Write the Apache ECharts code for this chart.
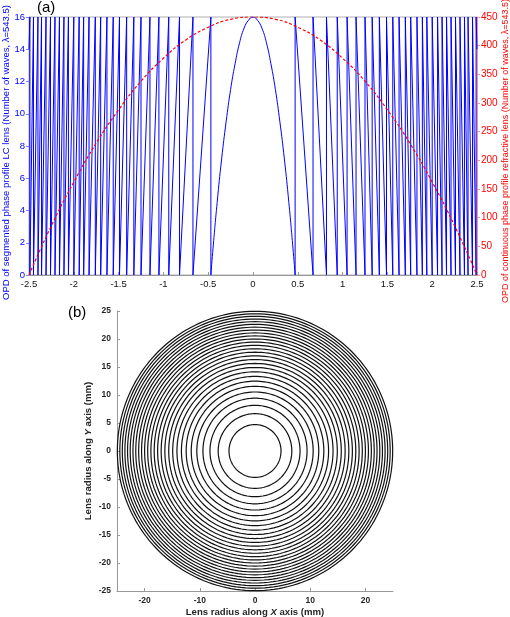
<!DOCTYPE html>
<html>
<head>
<meta charset="utf-8">
<script src="https://cdn.jsdelivr.net/npm/echarts@6/dist/echarts.min.js"></script>
<style>
html,body{margin:0;padding:0;background:#fff;}
#chart{width:510px;height:617px;}
</style>
</head>
<body>
<div id="chart"></div>
<script>
// ---- Panel (a) data ----
// x positions (positive side) where the segmented profile resets
const zoneEdges = [0.47, 0.67, 0.82, 0.94, 1.05, 1.15, 1.25, 1.33, 1.41, 1.49, 1.56, 1.63, 1.70, 1.76, 1.83, 1.89, 1.94, 2.00, 2.06, 2.11, 2.16, 2.21, 2.26, 2.31, 2.36, 2.40, 2.45, 2.49];
const edgeEndValue = 14;       // blue value at |x| = 2.5
const toothTop = 16;           // blue value right after each reset
// central zone of the segmented profile
const centerX = [0, 0.05, 0.1, 0.15, 0.2, 0.25, 0.3, 0.35, 0.4, 0.45, 0.47];
const centerY = [16, 15.8, 15.3, 14.4, 13.1, 11.5, 9.5, 7.2, 4.5, 1.4, 0];
// continuous refractive profile (right axis)
const redX = [-2.5, -2.25, -2, -1.75, -1.5, -1.25, -1, -0.75, -0.5, -0.25, 0, 0.25, 0.5, 0.75, 1, 1.25, 1.5, 1.75, 2, 2.25, 2.5];
const redY = [0, 86, 162, 230, 288, 338, 378, 410, 432, 446, 450, 446, 432, 410, 378, 338, 288, 230, 162, 86, 0];
const xTicksA = [-2.5, 2.5, 0.5];
const leftTicks = [0, 16, 2];
const rightTicks = [0, 450, 50];

// ---- Panel (b) data ----
const ringRadii = [4.71, 6.67, 8.16, 9.43, 10.54, 11.55, 12.47, 13.33, 14.14, 14.91, 15.63, 16.33, 17.00, 17.64, 18.26, 18.86, 19.44, 20.00, 20.55, 21.08, 21.60, 22.11, 22.61, 23.09, 23.57, 24.04, 24.49, 24.94];
const xLabelsB = [-20, -10, 0, 10, 20];
const yRangeB = [-25, 25, 5];

// ---- build series data ----
const centerData = [];
for (let i = centerX.length - 1; i >= 1; i--) centerData.push([-centerX[i], centerY[i]]);
for (let i = 0; i < centerX.length; i++) centerData.push([centerX[i], centerY[i]]);

function teeth(sign) {
  const pts = [];
  zoneEdges.forEach(e => { pts.push([sign * e, 0]); pts.push([sign * e, toothTop]); });
  pts.push([sign * 2.5, edgeEndValue]);
  return pts;
}
const redData = redX.map((x, i) => [x, redY[i]]);

const FONT = '"Liberation Sans", Arial, sans-serif';
const BLUE = '#0000ff';
const RED = '#ff0000';
const richB = {
  b: {fontSize: 9.6, fontWeight: 'bold', color: '#262626', fontFamily: FONT},
  i: {fontSize: 9.6, fontWeight: 'bold', fontStyle: 'italic', color: '#262626', fontFamily: FONT}
};

const chart = echarts.init(document.getElementById('chart'), null, {renderer: 'canvas'});
chart.setOption({
  animation: false,
  backgroundColor: '#fff',
  textStyle: {fontFamily: FONT},
  graphic: [
    {type: 'text', left: 37, top: 0, style: {text: '(a)', font: '15px ' + FONT, fill: '#000'}},
    {type: 'text', left: 68, top: 305, style: {text: '(b)', font: '15px ' + FONT, fill: '#000'}}
  ],
  grid: [
    {left: 29, top: 17, width: 448, height: 258, show: true, borderColor: '#b0b0b0', borderWidth: 1, outerBoundsMode: 'none', containLabel: false},
    {left: 117, top: 311, width: 276, height: 280, outerBoundsMode: 'none', containLabel: false}
  ],
  xAxis: [
    {
      gridIndex: 0, type: 'value', min: xTicksA[0], max: xTicksA[1], interval: xTicksA[2],
      axisLine: {onZero: false, lineStyle: {color: '#999'}},
      axisTick: {inside: true, length: 3, lineStyle: {color: '#999'}},
      axisLabel: {color: '#111', fontSize: 9.5, margin: 4, fontFamily: FONT},
      splitLine: {show: false}
    },
    {
      gridIndex: 1, type: 'value', min: -25, max: 25, interval: 5,
      axisLine: {onZero: false, lineStyle: {color: '#999'}},
      axisTick: {inside: true, length: 3, customValues: xLabelsB, lineStyle: {color: '#999'}},
      axisLabel: {customValues: xLabelsB, color: '#262626', fontSize: 8.5, fontWeight: 'bold', margin: 5, fontFamily: FONT},
      splitLine: {show: false},
      name: '{b|Lens radius along }{i|X}{b| axis (mm)}',
      nameLocation: 'middle', nameGap: 16, nameMoveOverlap: false,
      nameTextStyle: {rich: richB}
    }
  ],
  yAxis: [
    {
      gridIndex: 0, type: 'value', position: 'left', min: leftTicks[0], max: leftTicks[1], interval: leftTicks[2],
      axisLine: {show: true, onZero: false, lineStyle: {color: '#8080ff'}},
      axisTick: {show: true, inside: false, length: 3, lineStyle: {color: '#8080ff'}},
      axisLabel: {color: BLUE, fontSize: 9.5, margin: 4, fontFamily: FONT},
      splitLine: {show: false},
      name: 'OPD of segmented phase profile LC lens (Number of waves, λ=543.5)',
      nameLocation: 'middle', nameGap: 18, nameRotate: 90, nameMoveOverlap: false,
      nameTextStyle: {color: BLUE, fontSize: 9.5, fontFamily: FONT, padding: [0, 13, 0, 0]}
    },
    {
      gridIndex: 0, type: 'value', position: 'right', min: rightTicks[0], max: rightTicks[1], interval: rightTicks[2],
      axisLine: {show: true, onZero: false, lineStyle: {color: '#ff9090'}},
      axisTick: {show: true, inside: false, length: 3, lineStyle: {color: '#ff9090'}},
      axisLabel: {color: RED, fontSize: 10, margin: 4, fontFamily: FONT},
      splitLine: {show: false},
      name: 'OPD of continuous phase profile refractive lens (Number of waves, λ=543.5)',
      nameLocation: 'middle', nameGap: 24, nameRotate: 90, nameMoveOverlap: false,
      nameTextStyle: {color: RED, fontSize: 9, fontFamily: FONT, padding: [0, 10, 0, 0]}
    },
    {
      gridIndex: 1, type: 'value', min: yRangeB[0], max: yRangeB[1], interval: yRangeB[2],
      axisLine: {show: true, onZero: false, lineStyle: {color: '#999'}},
      axisTick: {show: true, inside: true, length: 3, lineStyle: {color: '#999'}},
      axisLabel: {color: '#262626', fontSize: 8.5, fontWeight: 'bold', margin: 6, fontFamily: FONT},
      splitLine: {show: false},
      name: '{b|Lens radius along }{i|Y}{b| axis (mm)}',
      nameLocation: 'middle', nameGap: 24, nameRotate: 90, nameMoveOverlap: false,
      nameTextStyle: {rich: richB}
    }
  ],
  series: [
    {type: 'line', xAxisIndex: 0, yAxisIndex: 0, data: teeth(-1), showSymbol: false, lineStyle: {color: BLUE, width: 1}, silent: true},
    {type: 'line', xAxisIndex: 0, yAxisIndex: 0, data: teeth(1), showSymbol: false, lineStyle: {color: BLUE, width: 1}, silent: true},
    {type: 'line', xAxisIndex: 0, yAxisIndex: 0, data: centerData, smooth: true, showSymbol: false, lineStyle: {color: BLUE, width: 1}, silent: true},
    {type: 'line', xAxisIndex: 0, yAxisIndex: 1, data: redData, smooth: true, showSymbol: false, lineStyle: {color: RED, width: 1.2, type: [3, 2]}, silent: true},
    {
      type: 'custom', xAxisIndex: 1, yAxisIndex: 2, coordinateSystem: 'cartesian2d',
      data: ringRadii.map(r => [r, 0]),
      renderItem: function (params, api) {
        const r = api.value(0);
        const pts = [];
        const N = 180;
        for (let k = 0; k <= N; k++) {
          const t = 2 * Math.PI * k / N;
          pts.push(api.coord([r * Math.cos(t), r * Math.sin(t)]));
        }
        return {type: 'polyline', shape: {points: pts}, style: {stroke: '#111', fill: null, lineWidth: 1.2}};
      },
      silent: true
    }
  ]
});
</script>
</body>
</html>
